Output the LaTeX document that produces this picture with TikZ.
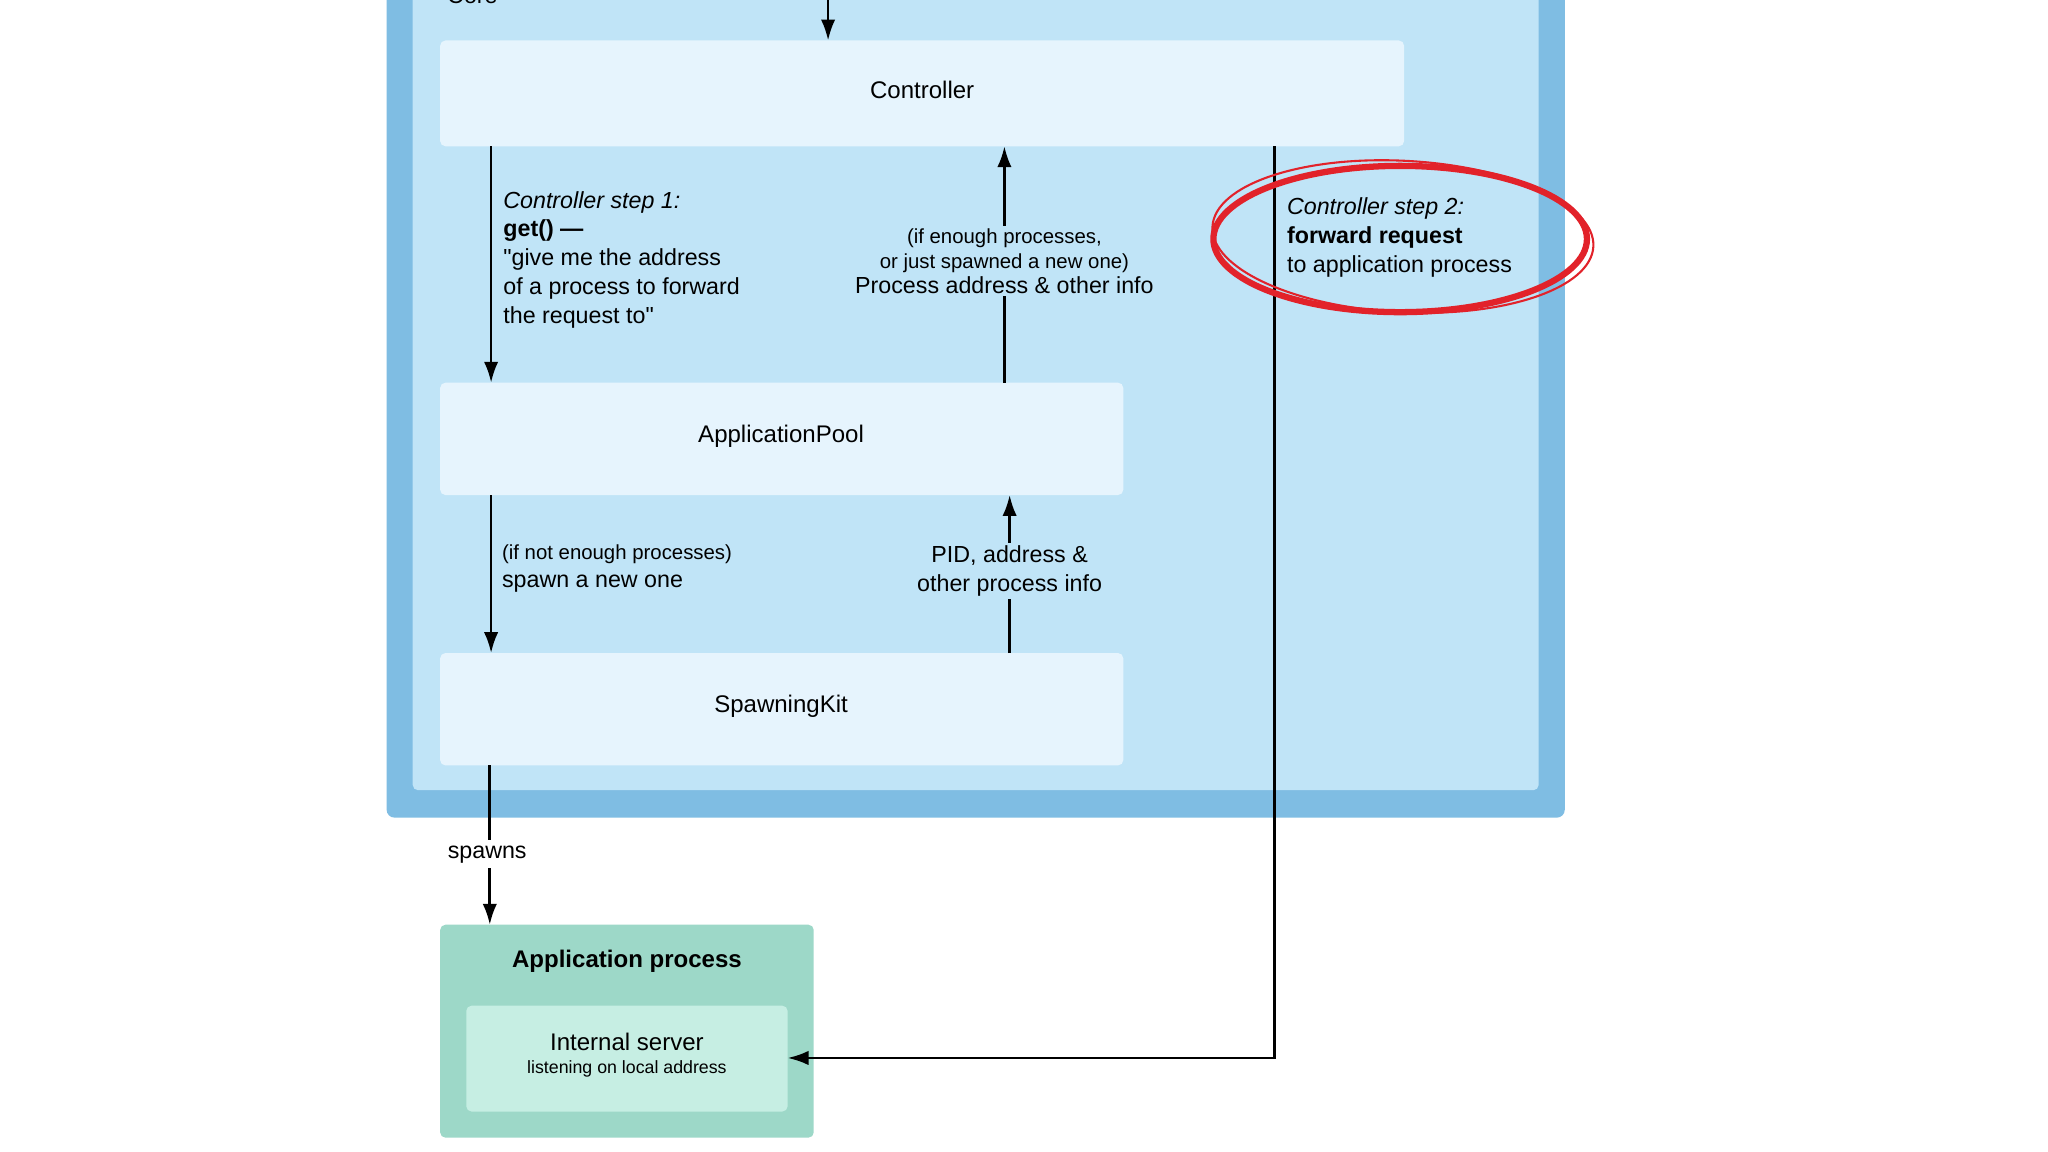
\documentclass[tikz,border=0pt]{standalone}
\usepackage{fontspec}
\setmainfont{Liberation Sans}
\usetikzlibrary{arrows.meta}
\definecolor{outerB}{HTML}{7FBDE3}
\definecolor{innerB}{HTML}{C0E4F7}
\definecolor{boxB}{HTML}{E6F4FD}
\definecolor{appG}{HTML}{9DD8C8}
\definecolor{srvG}{HTML}{C6EEE3}
\definecolor{redC}{HTML}{E2222A}
\begin{document}
\begin{tikzpicture}[x=0.5pt,y=-0.5pt,
  box/.style={fill=boxB,rounded corners=2pt,draw=none},
  arr/.style={-{Latex[length=8pt,width=5.5pt]},line width=1pt},
  lbl/.style={font=\fontsize{8.9}{11}\selectfont,align=left,anchor=north west,inner sep=0pt},
  clbl/.style={align=center,inner sep=1pt,fill=innerB,font=\fontsize{8.9}{11}\selectfont}]
\useasboundingbox (0,0) rectangle (1568,882);
\fill[white] (0,0) rectangle (1568,882);
\fill[outerB,rounded corners=3pt] (296,-20) rectangle (1198,626);
\fill[innerB,rounded corners=2pt] (316,-20) rectangle (1178,605);
\node[lbl] (core) at (342,-10) {Core};
\fill[box] (337,31) rectangle (1075,112);
\node[font=\fontsize{9.2}{11}\selectfont] (ctrl) at (706,69) {Controller};
\fill[box] (337,293) rectangle (860,379);
\node[font=\fontsize{9.2}{11}\selectfont] (pool) at (598,334) {ApplicationPool};
\fill[box] (337,500) rectangle (860,586);
\node[font=\fontsize{9.2}{11}\selectfont] (spawn) at (598,541) {SpawningKit};
\fill[appG,rounded corners=2pt] (337,708) rectangle (623,871);
\node[font=\fontsize{9.2}{11}\selectfont\bfseries] (app) at (480,736) {Application process};
\fill[srvG,rounded corners=2pt] (357,770) rectangle (603,851);
\node[align=center,inner sep=0pt,font=\fontsize{9.2}{10}\selectfont] (srv) at (480,808) {Internal server\\[-1pt]{\fontsize{6.8}{8}\selectfont listening on local address}};
\coordinate (topin) at (634,-20);
\coordinate (ctop) at (634,31);
\draw[arr] (topin) -- (ctop);
\coordinate (c1) at (376,112); \coordinate (p1) at (376,293);
\draw[arr] (c1) -- (p1);
\node[lbl] (s1) at (385,146) {\itshape Controller step 1:\\\bfseries get() ---\\\textquotedbl give me the address\\of a process to forward\\the request to\textquotedbl};
\coordinate (p2) at (769,293); \coordinate (c2) at (769,112);
\draw[arr] (p2) -- (c2);
\node[clbl,font=\fontsize{7.8}{9.6}\selectfont] (r1) at (769,200) {(if enough processes,\\or just spawned a new one)\\[0pt]{\fontsize{8.9}{10}\selectfont Process address \& other info}};
\coordinate (p3) at (376,379); \coordinate (k3) at (376,500);
\draw[arr] (p3) -- (k3);
\node[lbl,font=\fontsize{7.8}{10.5}\selectfont] (s2) at (384,417) {(if not enough processes)\\{\fontsize{8.9}{10}\selectfont spawn a new one}};
\coordinate (k4) at (773,500); \coordinate (p4) at (773,379);
\draw[arr] (k4) -- (p4);
\node[clbl] (r2) at (773,437) {PID, address \&\\other process info};
\coordinate (k5) at (375,586); \coordinate (a5) at (375,708);
\draw[arr] (k5) -- (a5);
\node[inner sep=2pt,fill=white,font=\fontsize{8.9}{10}\selectfont] (sp) at (373,654) {spawns};
\coordinate (c6) at (976,112); \coordinate (bend) at (976,810); \coordinate (se) at (603,810);
\draw[arr] (c6) -- (bend) -- (se);
\node[lbl] (s3) at (985,151) {\itshape Controller step 2:\\\bfseries forward request\\to application process};
\draw[redC,line width=2.4pt] (1072,183) ellipse [x radius=143, y radius=56];
\draw[redC,line width=0.8pt,rotate around={-3:(1072,183)}] (1074,181) ellipse [x radius=146, y radius=58];
\end{tikzpicture}
\end{document}
